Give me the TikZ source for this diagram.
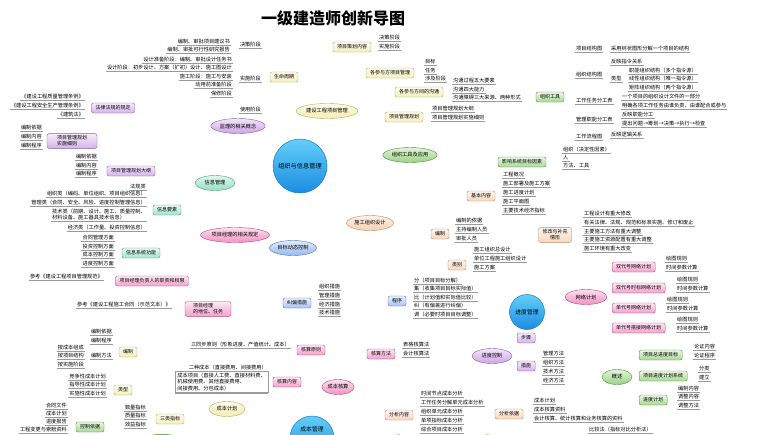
\documentclass[tikz,border=0pt]{standalone}
\usepackage{fontspec}
\setmainfont{Noto Sans CJK SC}
\usetikzlibrary{arrows.meta,shapes.geometric}
\pgfdeclarelayer{background}
\pgfsetlayers{background,main}

\definecolor{hubtop}{HTML}{62CFF8}
\definecolor{hubbot}{HTML}{1C8CE3}
\definecolor{hubline}{HTML}{1A7BC9}
\definecolor{zi}{HTML}{B97FDD}
\definecolor{huang}{HTML}{EFE68A}
\definecolor{lv}{HTML}{6DC04B}
\definecolor{cheng}{HTML}{F5BC8E}
\definecolor{lan}{HTML}{6B9BEF}
\definecolor{fen}{HTML}{EE62AB}
\definecolor{qing}{HTML}{62D2A9}
\definecolor{leafgray}{HTML}{9A9A9A}

\newcommand{\leaffont}{\fontsize{5.2}{6.2}\selectfont}
\newcommand{\boxfont}{\fontsize{5}{6}\selectfont}
\newcommand{\ellfont}{\fontsize{5.2}{6}\selectfont}
\newcommand{\hubfont}{\fontsize{5.8}{7}\selectfont}
\newcommand{\mmtitle}{\fontsize{16}{18}\selectfont\bfseries}

\tikzset{
  mhub/.style={circle, draw=hubline, line width=0.5pt, top color=hubtop,
    bottom color=hubbot, font=\hubfont, inner sep=0pt},
  mell/.style={ellipse, draw=#1!75!black, line width=0.4pt, top color=#1!20!white,
    bottom color=#1!70!white, font=\ellfont, inner xsep=1pt, inner ysep=1pt,
    minimum height=15pt},
  mbox/.style={rectangle, rounded corners=2pt, draw=#1!75!black, line width=0.4pt,
    top color=#1!15!white, bottom color=#1!60!white, font=\boxfont,
    inner xsep=4pt, inner ysep=2pt, minimum height=10pt},
  branch/.style={draw=#1, line width=2.4pt, -{Latex[length=6pt,width=6pt]}},
  twig/.style={draw=#1, line width=1.6pt, -{Latex[length=5pt,width=5pt]}},
  spine/.style={draw=#1, line width=0.7pt},
  leafline/.style={draw=leafgray, line width=0.4pt},
  leaf/.style={font=\leaffont, inner xsep=1pt, inner ysep=1pt,
    append after command={(\tikzlastnode.south west) edge[leafline] (\tikzlastnode.south east)}},
}

\begin{document}
\begin{tikzpicture}[x=1pt,y=-1pt]
\useasboundingbox (0,0) rectangle (760,434);
\fill[white] (0,0) rectangle (760,434);

% title
\node[font=\mmtitle] (title) at (333,18) {一级建造师创新导图};

% centre topics
\node[mhub, minimum size=54pt, font=\fontsize{6.2}{7}\selectfont] (zx) at (300,166) {组织与信息管理};
\node[mhub, minimum size=35pt] (jd) at (527,312) {进度管理};
\node[mhub, minimum size=44pt] (cb) at (312,438) {};
\node[font=\hubfont] (cbt) at (312,429) {成本管理};

% main topics
\node[mell=zi] (jl) at (238,126) {监理的相关概念};
\node[mell=huang] (js) at (327,111) {建设工程项目管理};
\node[mell=lv] (gj) at (410,155) {组织工具及应用};
\node[mell=cheng] (sz) at (370,223) {施工组织设计};
\node[mell=lan] (mb) at (293,248) {目标动态控制};
\node[mell=fen] (xm) at (235,235) {项目经理的相关规定};
\node[mell=qing, minimum width=40pt] (xx) at (215,183) {信息管理};
\node[mell=fen, minimum width=32pt] (cj) at (338,387) {成本核算};
\node[mell=huang, minimum width=36pt] (cp) at (227,409) {成本计划};
\node[mell=zi, minimum width=40pt] (jk) at (492,356) {进度控制};
\node[mell=fen, minimum width=42pt] (wl) at (586,297) {网络计划};
\node[mell=lv, minimum width=30pt] (gs) at (617,377) {概述};

% subtopics
\node[mbox=zi] (fg) at (113,108) {法律法规的规定};
\node[mbox=zi, align=left, minimum width=50pt] (sx) at (72,141) {项目管理规划\\实施细则};
\node[mbox=zi] (dg) at (131,171) {项目管理规划大纲};
\node[mbox=huang] (sm) at (284,77) {生命周期};
\node[mbox=huang] (ch) at (352,47) {项目策划内容};
\node[mbox=huang] (cy) at (390,73) {各参与方项目管理};
\node[mbox=huang] (gt) at (419,92) {各参与方间的沟通};
\node[mbox=huang] (gh) at (404,117) {项目管理规划};
\node[mbox=lv] (zg) at (550,97) {组织工具};
\node[mbox=lv] (yx) at (522,162) {影响系统目标因素};
\node[mbox=cheng] (jb) at (481,196) {基本内容};
\node[mbox=cheng] (bz) at (440,234) {编制};
\node[mbox=cheng] (lb) at (457,265) {类别};
\node[mbox=cheng, align=center] (xg) at (555,235) {修改与补充\\情形};
\node[mbox=lan] (jp) at (297,303) {纠偏措施};
\node[mbox=lan] (cx) at (397,301) {程序};
\node[mbox=fen] (zr) at (152,281) {项目经理负责人的职责和权限};
\node[mbox=fen, align=left, minimum width=46pt] (dw) at (208,309) {项目经理\\的地位、任务};
\node[mbox=qing] (ys) at (167,210) {信息要素};
\node[mbox=qing] (xt) at (141,253) {信息系统功能};
\node[mbox=fen] (hy) at (311,350) {核算原则};
\node[mbox=fen] (hn) at (287,382) {核算内容};
\node[mbox=fen] (hf) at (381,354) {核算方法};
\node[mbox=huang] (bzz) at (128,352) {编制};
\node[mbox=huang] (lx) at (123,390) {类型};
\node[mbox=huang] (zb) at (170,419) {三类指标};
\node[mbox=lv] (kz) at (90,427) {控制依据};
\node[mbox=zi, anchor=west] (bu) at (517,338) {步骤};
\node[mbox=zi, anchor=west] (cs) at (517,366) {措施};
\node[mbox=fen, anchor=west] (sd) at (612,267) {双代号网络计划};
\node[mbox=fen, anchor=west] (sb) at (612,288) {双代号时标网络计划};
\node[mbox=fen, anchor=west] (dd) at (612,308) {单代号网络计划};
\node[mbox=fen, anchor=west] (dj) at (612,328) {单代号搭接网络计划};
\node[mbox=lv, anchor=west] (zm) at (639,355) {项目总进度目标};
\node[mbox=lv, anchor=west] (xj) at (639,376) {项目进度计划系统};
\node[mbox=lv, anchor=west] (jj) at (639,400) {进度计划};
\node[mbox=cheng] (fn) at (399,415) {分析内容};
\node[mbox=cheng] (fy) at (509,414) {分析依据};

% leaves: 生命周期
\node[leaf, anchor=south east] (sm1) at (262,48.5) {决策阶段};
\node[leaf, anchor=south east] (sm2) at (262,82.5) {实施阶段};
\node[leaf, anchor=south east] (sm3) at (262,113.5) {使用阶段};
\node[leaf, anchor=south east] (sm11) at (231,45.5) {编制、审批项目建议书};
\node[leaf, anchor=south east] (sm12) at (231,53.5) {编制、审批可行性研究报告};
\node[leaf, anchor=south east] (sm21) at (233,63.5) {设计准备阶段：编制、审批设计任务书};
\node[leaf, anchor=south east] (sm22) at (233,71.5) {设计阶段：初步设计、方案（扩初）设计、施工图设计};
\node[leaf, anchor=south east] (sm23) at (233,80.5) {施工阶段：施工与安装};
\node[leaf, anchor=south east] (sm24) at (233,88.5) {动用前准备阶段};
\node[leaf, anchor=south east] (sm25) at (233,97.5) {保修阶段};
% leaves: 建设工程项目管理
\node[leaf, anchor=south west] (ch1) at (378,41.5) {决策阶段};
\node[leaf, anchor=south west] (ch2) at (378,50.5) {实施阶段};
\node[leaf, anchor=south west] (cy1) at (424,65.5) {目标};
\node[leaf, anchor=south west] (cy2) at (424,74.5) {任务};
\node[leaf, anchor=south west] (cy3) at (424,82.5) {涉及阶段};
\node[leaf, anchor=south west] (gt1) at (452,84.5) {沟通过程五大要素};
\node[leaf, anchor=south west] (gt2) at (452,93.5) {沟通四大能力};
\node[leaf, anchor=south west] (gt3) at (452,101.5) {沟通障碍三大来源、两种形式};
\node[leaf, anchor=south west] (gh1) at (431,112.5) {项目管理规划大纲};
\node[leaf, anchor=south west] (gh2) at (431,121.5) {项目管理规划实施细则};
% leaves: 监理的相关概念
\node[leaf, anchor=south east] (fg1) at (85,100.5) {《建设工程质量管理条例》};
\node[leaf, anchor=south east] (fg2) at (85,109.5) {《建设工程安全生产管理条例》};
\node[leaf, anchor=south east] (fg3) at (85,118.5) {《建筑法》};
\node[leaf, anchor=south east] (sx1) at (43,131.5) {编制依据};
\node[leaf, anchor=south east] (sx2) at (43,140.5) {编制内容};
\node[leaf, anchor=south east] (sx3) at (43,149.5) {编制程序};
\node[leaf, anchor=south east] (dg1) at (98,160.5) {编制依据};
\node[leaf, anchor=south east] (dg2) at (98,169.5) {编制内容};
\node[leaf, anchor=south east] (dg3) at (98,177.5) {编制程序};
% leaves: 信息管理
\node[leaf, anchor=south east] (ys1) at (147,190) {法规类};
\node[leaf, anchor=south east] (ys2) at (147,197.5) {组织类（编码、单位组织、项目组织信息）};
\node[leaf, anchor=south east] (ys3) at (147,206.5) {管理类（合同、安全、风险、进度控制管理信息）};
\node[leaf, anchor=south east, align=left] (ys4) at (147,221.5) {技术类（前期、设计、施工、质量控制、\\材料设备、施工器具技术信息）};
\node[leaf, anchor=south east] (ys5) at (147,231) {经济类（工作量、投资控制信息）};
\node[leaf, anchor=south east] (xt1) at (115,241.5) {合同管理方面};
\node[leaf, anchor=south east] (xt2) at (115,250) {投资控制方面};
\node[leaf, anchor=south east] (xt3) at (115,258.5) {成本控制方面};
\node[leaf, anchor=south east] (xt4) at (115,267) {进度控制方面};
% leaves: 项目经理的相关规定
\node[leaf, anchor=south east] (zr1) at (104,280) {参考《建设工程项目管理规范》};
\node[leaf, anchor=south east] (dw1) at (172,308.5) {参考《建设工程施工合同（示范文本）》};
% leaves: 目标动态控制
\node[leaf, anchor=south west] (jp1) at (318,290.5) {组织措施};
\node[leaf, anchor=south west] (jp2) at (318,299.5) {管理措施};
\node[leaf, anchor=south west] (jp3) at (318,308.5) {经济措施};
\node[leaf, anchor=south west] (jp4) at (318,316.5) {技术措施};
\node[leaf, anchor=south west] (cx1) at (413,284.5) {分（项目目标分解）};
\node[leaf, anchor=south west] (cx2) at (413,292.5) {集（收集项目目标实际值）};
\node[leaf, anchor=south west] (cx3) at (413,301.5) {比（计划值和实际值比较）};
\node[leaf, anchor=south west] (cx4) at (413,309.5) {纠（有偏差进行纠偏）};
\node[leaf, anchor=south west] (cx5) at (413,318.5) {调（必要时项目目标调整）};
% leaves: 组织工具及应用
\node[leaf, anchor=south west] (zg1) at (575,52.5) {项目结构图};
\node[leaf, anchor=south west] (zg2) at (575,78.5) {组织结构图};
\node[leaf, anchor=south west] (zg3) at (575,104.5) {工作任务分工表};
\node[leaf, anchor=south west] (zg4) at (575,123.5) {管理职能分工表};
\node[leaf, anchor=south west] (zg5) at (575,140.5) {工作流程图};
\node[leaf, anchor=south west] (zg11) at (610,52.5) {采用树状图形分解一个项目的结构};
\node[leaf, anchor=south west] (zg21) at (610,65.5) {反映指令关系};
\node[leaf, anchor=south west] (zg22) at (610,82.5) {类型};
\node[leaf, anchor=south west] (zg221) at (628,74.5) {职能组织结构（多个指令源）};
\node[leaf, anchor=south west] (zg222) at (628,82.5) {线性组织结构（唯一指令源）};
\node[leaf, anchor=south west] (zg223) at (628,91.5) {矩阵组织结构（两个指令源）};
\node[leaf, anchor=south west] (zg31) at (621,100.5) {一个项目的组织设计文件的一部分};
\node[leaf, anchor=south west] (zg32) at (621,109.5) {明确各项工作任务由谁负责、由谁配合或参与};
\node[leaf, anchor=south west] (zg41) at (621,118.5) {反映职能分工};
\node[leaf, anchor=south west] (zg42) at (621,127.5) {提出问题→筹划→决策→执行→检查};
\node[leaf, anchor=south west] (zg51) at (610,138.5) {反映逻辑关系};
\node[leaf, anchor=south west] (yx1) at (562,153.5) {组织（决定性因素）};
\node[leaf, anchor=south west] (yx2) at (562,161.5) {人};
\node[leaf, anchor=south west] (yx3) at (562,169.5) {方法、工具};
% leaves: 施工组织设计
\node[leaf, anchor=south west] (jb1) at (502,178.5) {工程概况};
\node[leaf, anchor=south west] (jb2) at (502,187.5) {施工部署及施工方案};
\node[leaf, anchor=south west] (jb3) at (502,196.5) {施工进度计划};
\node[leaf, anchor=south west] (jb4) at (502,205.5) {施工平面图};
\node[leaf, anchor=south west] (jb5) at (502,214.5) {主要技术经济指标};
\node[leaf, anchor=south west] (bz1) at (455,224.5) {编制的依据};
\node[leaf, anchor=south west] (bz2) at (455,233.5) {主持编制人员};
\node[leaf, anchor=south west] (bz3) at (455,242.5) {审批人员};
\node[leaf, anchor=south west] (lb1) at (473,253.5) {施工组织总设计};
\node[leaf, anchor=south west] (lb2) at (473,262.5) {单位工程施工组织设计};
\node[leaf, anchor=south west] (lb3) at (473,271.5) {施工方案};
\node[leaf, anchor=south west] (xg1) at (583,217.5) {工程设计有重大修改};
\node[leaf, anchor=south west] (xg2) at (583,226.5) {有关法律、法规、规范和标准实施、修订和废止};
\node[leaf, anchor=south west] (xg3) at (583,235.5) {主要施工方法有重大调整};
\node[leaf, anchor=south west] (xg4) at (583,243.5) {主要施工资源配置有重大调整};
\node[leaf, anchor=south west] (xg5) at (583,252.5) {施工环境有重大改变};
% leaves: 进度管理
\node[leaf, anchor=south west] (sd1) at (665,262.5) {绘图规则};
\node[leaf, anchor=south west] (sd2) at (665,271.5) {时间参数计算};
\node[leaf, anchor=south west] (sb1) at (676,283.5) {绘图规则};
\node[leaf, anchor=south west] (sb2) at (676,292.5) {时间参数计算};
\node[leaf, anchor=south west] (dd1) at (666,303.5) {绘图规则};
\node[leaf, anchor=south west] (dd2) at (666,312.5) {时间参数计算};
\node[leaf, anchor=south west] (dj1) at (676,323.5) {绘图规则};
\node[leaf, anchor=south west] (dj2) at (676,332.5) {时间参数计算};
\node[leaf, anchor=south west] (zm1) at (693,350.5) {论证内容};
\node[leaf, anchor=south west] (zm2) at (693,359.5) {论证程序};
\node[leaf, anchor=south west] (xj1) at (698,372.5) {分类};
\node[leaf, anchor=south west] (xj2) at (698,381.5) {建立};
\node[leaf, anchor=south west] (jj1) at (677,392.5) {编制内容};
\node[leaf, anchor=south west] (jj2) at (677,400.5) {调整内容};
\node[leaf, anchor=south west] (jj3) at (677,409.5) {调整方法};
\node[leaf, anchor=south west] (cs1) at (542,357.5) {管理方法};
\node[leaf, anchor=south west] (cs2) at (542,366.5) {组织方法};
\node[leaf, anchor=south west] (cs3) at (542,375.5) {技术方法};
\node[leaf, anchor=south west] (cs4) at (542,384.5) {经济方法};
% leaves: 成本管理
\node[leaf, anchor=south west] (fn1) at (420,397.5) {时间节点成本分析};
\node[leaf, anchor=south west] (fn2) at (420,406.5) {工作任务分解单元成本分析};
\node[leaf, anchor=south west] (fn3) at (420,415.5) {组织单元成本分析};
\node[leaf, anchor=south west] (fn4) at (420,424.5) {单项指标成本分析};
\node[leaf, anchor=south west] (fn5) at (420,433) {综合项目成本分析};
\node[leaf, anchor=south west] (fy1) at (533,404.5) {成本计划};
\node[leaf, anchor=south west] (fy2) at (533,413.5) {成本核算资料};
\node[leaf, anchor=south west] (fy3) at (533,422.5) {会计核算、统计核算和业务核算的资料};
\node[leaf, anchor=south west] (bj) at (588,433) {比较法（指标对比分析法）};
\node[leaf, anchor=south east] (hy1) at (291,348.5) {三同步原则（形象进度、产值统计、成本）};
\node[leaf, anchor=south east] (hn1) at (268,371.5) {二种成本（直接费用、间接费用）};
\node[leaf, anchor=east, draw=leafgray, align=left, inner sep=2pt] (hn2) at (268,382)
  {成本项目（直接人工费、直接材料费、\\机械使用费、其他直接费用、\\间接费用、分包成本）};
\node[leaf, anchor=south west] (hf1) at (402,348.5) {表格核算法};
\node[leaf, anchor=south west] (hf2) at (402,357.5) {会计核算法};
\node[leaf, anchor=south east] (bzz1) at (113,335.5) {编制依据};
\node[leaf, anchor=south east] (bzz2) at (113,344.5) {编制程序};
\node[leaf, anchor=south east] (bzz3) at (113,359.5) {编制方法};
\node[leaf, anchor=south east] (bzz31) at (85,351.5) {按成本组成};
\node[leaf, anchor=south east] (bzz32) at (85,359.5) {按项目结构};
\node[leaf, anchor=south east] (bzz33) at (85,368.5) {按实施阶段};
\node[leaf, anchor=south east] (lx1) at (107,380.5) {竞争性成本计划};
\node[leaf, anchor=south east] (lx2) at (107,388.5) {指导性成本计划};
\node[leaf, anchor=south east] (lx3) at (107,397.5) {实施性成本计划};
\node[leaf, anchor=south east] (zb1) at (147,411.5) {数量指标};
\node[leaf, anchor=south east] (zb2) at (147,419.5) {质量指标};
\node[leaf, anchor=south east] (zb3) at (147,428.5) {效益指标};
\node[leaf, anchor=south east] (kz1) at (68,409.5) {合同文件};
\node[leaf, anchor=south east] (kz2) at (68,417.5) {成本计划};
\node[leaf, anchor=south east] (kz3) at (68,425.5) {进度报告};
\node[leaf, anchor=south east] (kz4) at (68,433.2) {工程变更与索赔资料};

\coordinate (cfx) at (448,447);

\begin{pgfonlayer}{background}
% leaf brackets
\foreach \n in {sm1,sm2,sm3} \draw[leafline] (sm.west) -| (\n.south east);
\foreach \n in {sm11,sm12} \draw[leafline] (sm1.south west) -| (\n.south east);
\foreach \n in {sm21,sm22,sm23,sm24,sm25} \draw[leafline] (sm2.south west) -| (\n.south east);
\foreach \n in {ch1,ch2} \draw[leafline] (ch.east) -| (\n.south west);
\foreach \n in {cy1,cy2,cy3} \draw[leafline] (cy.east) -| (\n.south west);
\foreach \n in {gt1,gt2,gt3} \draw[leafline] (gt.east) -| (\n.south west);
\foreach \n in {gh1,gh2} \draw[leafline] (gh.east) -| (\n.south west);
\foreach \n in {fg1,fg2,fg3} \draw[leafline] (fg.west) -| (\n.south east);
\foreach \n in {sx1,sx2,sx3} \draw[leafline] (sx.west) -| (\n.south east);
\foreach \n in {dg1,dg2,dg3} \draw[leafline] (dg.west) -| (\n.south east);
\foreach \n in {ys1,ys2,ys3,ys4,ys5} \draw[leafline] (ys.west) -| (\n.south east);
\foreach \n in {xt1,xt2,xt3,xt4} \draw[leafline] (xt.west) -| (\n.south east);
\draw[leafline] (zr.west) -| (zr1.south east);
\draw[leafline] (dw.west) -| (dw1.south east);
\foreach \n in {jp1,jp2,jp3,jp4} \draw[leafline] (jp.east) -| (\n.south west);
\foreach \n in {cx1,cx2,cx3,cx4,cx5} \draw[leafline] (cx.east) -| (\n.south west);
\foreach \n in {zg1,zg2,zg3,zg4,zg5} \draw[leafline] (zg.east) -| (\n.south west);
\draw[leafline] (zg1.south east) -| (zg11.south west);
\foreach \n in {zg21,zg22} \draw[leafline] (zg2.south east) -| (\n.south west);
\foreach \n in {zg221,zg222,zg223} \draw[leafline] (zg22.south east) -| (\n.south west);
\foreach \n in {zg31,zg32} \draw[leafline] (zg3.south east) -| (\n.south west);
\foreach \n in {zg41,zg42} \draw[leafline] (zg4.south east) -| (\n.south west);
\draw[leafline] (zg5.south east) -| (zg51.south west);
\foreach \n in {yx1,yx2,yx3} \draw[leafline] (yx.east) -| (\n.south west);
\foreach \n in {jb1,jb2,jb3,jb4,jb5} \draw[leafline] (jb.east) -| (\n.south west);
\foreach \n in {bz1,bz2,bz3} \draw[leafline] (bz.east) -| (\n.south west);
\foreach \n in {lb1,lb2,lb3} \draw[leafline] (lb.east) -| (\n.south west);
\foreach \n in {xg1,xg2,xg3,xg4,xg5} \draw[leafline] (xg.east) -| (\n.south west);
\foreach \n in {sd1,sd2} \draw[leafline] (sd.east) -| (\n.south west);
\foreach \n in {sb1,sb2} \draw[leafline] (sb.east) -| (\n.south west);
\foreach \n in {dd1,dd2} \draw[leafline] (dd.east) -| (\n.south west);
\foreach \n in {dj1,dj2} \draw[leafline] (dj.east) -| (\n.south west);
\foreach \n in {zm1,zm2} \draw[leafline] (zm.east) -| (\n.south west);
\foreach \n in {xj1,xj2} \draw[leafline] (xj.east) -| (\n.south west);
\foreach \n in {jj1,jj2,jj3} \draw[leafline] (jj.east) -| (\n.south west);
\foreach \n in {cs1,cs2,cs3,cs4} \draw[leafline] (cs.east) -| (\n.south west);
\foreach \n in {fn1,fn2,fn3,fn4,fn5} \draw[leafline] (fn.east) -| (\n.south west);
\foreach \n in {fy1,fy2,fy3} \draw[leafline] (fy.east) -| (\n.south west);
\draw[leafline] (hy.west) -| (hy1.south east);
\draw[leafline] (hn.west) -| (hn1.south east);
\draw[leafline] (hn.west) -- (hn2.east);
\foreach \n in {hf1,hf2} \draw[leafline] (hf.east) -| (\n.south west);
\foreach \n in {bzz1,bzz2,bzz3} \draw[leafline] (bzz.west) -| (\n.south east);
\foreach \n in {bzz31,bzz32,bzz33} \draw[leafline] (bzz3.south west) -| (\n.south east);
\foreach \n in {lx1,lx2,lx3} \draw[leafline] (lx.west) -| (\n.south east);
\foreach \n in {zb1,zb2,zb3} \draw[leafline] (zb.west) -| (\n.south east);
\foreach \n in {kz1,kz2,kz3,kz4} \draw[leafline] (kz.west) -| (\n.south east);

% box spines
\foreach \n in {sd,sb,dd,dj} \draw[spine=fen] (wl.east) -- ++(2,0) |- (\n.west);
\foreach \n in {zm,xj,jj} \draw[spine=lv] (gs.east) -- ++(5,0) |- (\n.west);
\foreach \n in {bu,cs} \draw[spine=zi] (jk.east) -- ++(3,0) |- (\n.west);

% branches from the centre topics
\draw[branch=huang] (zx.75) to[out=75,in=-105] (js.-95);
\draw[branch=zi] (zx.135) to[out=150,in=-20] (jl.-20);
\draw[branch=lv] (zx.10) to[out=0,in=190] (gj.west);
\draw[branch=cheng] (zx.-40) to[out=-30,in=110] (sz.140);
\draw[branch=lan] (zx.-85) to[out=-90,in=80] (mb.80);
\draw[branch=fen] (zx.-135) to[out=-140,in=60] (xm.60);
\draw[branch=qing] (zx.178) to[out=180,in=30] (xx.30);
\draw[branch=fen] (cb.70) to[out=70,in=-100] (cj.-95);
\draw[branch=huang] (cb.150) to[out=165,in=0] (cp.east);
\draw[branch=lv] (cb.190) .. controls (230,450) and (160,432) .. (kz.east);
\draw[branch=zi] (jd.215) to[out=215,in=85] (jk.85);
\draw[branch=fen] (jd.60) to[out=70,in=180] (wl.west);
\draw[branch=lv] (jd.-40) to[out=-35,in=150] (gs.150);

% twigs
\draw[twig=zi] (jl.175) to[out=175,in=0] (fg.east);
\draw[twig=zi] (jl.190) to[out=195,in=0] (sx.east);
\draw[twig=zi] (jl.225) to[out=230,in=0] (dg.east);
\draw[twig=huang] (js.150) to[out=150,in=-30] (sm.-20);
\draw[twig=huang] (js.100) to[out=100,in=-150] (ch.-160);
\draw[twig=huang] (js.40) to[out=40,in=180] (cy.west);
\draw[twig=huang] (js.15) to[out=10,in=180] (gt.west);
\draw[twig=huang] (js.-10) to[out=-10,in=180] (gh.west);
\draw[twig=lv] (gj.15) to[out=10,in=-100] (zg.south);
\draw[twig=lv] (gj.-5) to[out=0,in=180] (yx.west);
\draw[twig=cheng] (sz.25) to[out=20,in=180] (jb.west);
\draw[twig=cheng] (sz.8) to[out=0,in=170] (xg.west);
\draw[twig=cheng] (sz.-15) to[out=-10,in=180] (bz.west);
\draw[twig=cheng] (sz.-50) to[out=-50,in=180] (lb.west);
\draw[twig=lan] (mb.-95) to[out=-90,in=90] (jp.north);
\draw[twig=lan] (mb.-8) to[out=0,in=95] (cx.north);
\draw[twig=fen] (xm.200) to[out=200,in=60] (zr.30);
\draw[twig=fen] (xm.-110) to[out=-100,in=90] (dw.north);
\draw[twig=qing] (xx.200) to[out=210,in=0] (ys.east);
\draw[twig=qing] (xx.-100) to[out=-110,in=45] (xt.35);
\draw[twig=fen] (cj.120) to[out=110,in=-20] (hy.-15);
\draw[twig=fen] (cj.170) to[out=160,in=70] (hn.70);
\draw[twig=fen] (cj.50) to[out=60,in=-110] (hf.-110);
\draw[twig=huang] (cp.160) to[out=160,in=-50] (bzz.-40);
\draw[twig=huang] (cp.180) to[out=180,in=0] (lx.east);
\draw[twig=huang] (cp.200) to[out=200,in=0] (zb.east);
\draw[twig=cheng] (cfx) to[out=175,in=-70] (fn.-150);
\draw[twig=cheng] (cfx) to[out=10,in=-120] (fy.-150);
\end{pgfonlayer}
\end{tikzpicture}
\end{document}
